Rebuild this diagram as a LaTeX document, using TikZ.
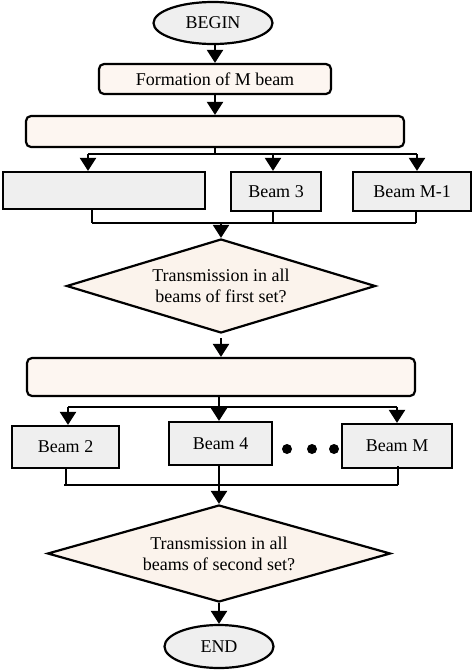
\documentclass[tikz,border=0pt]{standalone}
\usepackage{fontspec}
\setmainfont{Liberation Serif}
\usetikzlibrary{shapes.geometric,arrows.meta}
\definecolor{grayfill}{HTML}{EFEFEF}
\definecolor{pinkfill}{HTML}{FDF6F1}
\definecolor{diafill}{HTML}{FBF3EC}
\tikzset{
  every node/.style={font=\fontsize{18}{21}\selectfont, line width=2.2pt, inner sep=0pt},
  oval/.style={draw, ellipse, fill=grayfill},
  procbox/.style={draw, rounded corners=5pt, fill=pinkfill},
  beambox/.style={draw, rectangle, fill=grayfill},
  decbox/.style={draw, diamond, aspect=3.5, fill=diafill, align=center},
  conn/.style={line width=2.2pt},
  arr/.style={line width=2.2pt, -{Triangle[width=16pt,length=13pt]}},
  dot/.style={circle, fill=black, minimum size=10pt, draw=none}
}
\begin{document}
\begin{tikzpicture}[x=1pt,y=-1pt]
\useasboundingbox (0,0) rectangle (474,670);
% nodes
\node[oval, minimum width=119pt, minimum height=42pt] (begin) at (213,23) {BEGIN};
\node[procbox, minimum width=232pt, minimum height=30pt] (form) at (215,79) {Formation of M beam};
\node[procbox, minimum width=378pt, minimum height=31pt] (set1) at (215,131.5) {};
\node[beambox, minimum width=202pt, minimum height=37pt] (bA) at (104,190.5) {};
\node[beambox, minimum width=90pt, minimum height=39pt] (b3) at (276,191.5) {Beam 3};
\node[beambox, minimum width=118pt, minimum height=39pt] (bM1) at (412,191.5) {Beam M-1};
\node[decbox, minimum width=309pt, minimum height=94pt] (dia1) at (221,286) {Transmission in all\\beams of first set?};
\node[procbox, minimum width=388pt, minimum height=38pt] (set2) at (221,377) {};
\node[beambox, minimum width=107pt, minimum height=42pt] (b2) at (65.5,447) {Beam 2};
\node[beambox, minimum width=103pt, minimum height=43pt] (b4) at (220.5,443.5) {Beam 4};
\node[beambox, minimum width=110pt, minimum height=44pt] (bM) at (397,446) {Beam M};
\node[dot] (d1) at (287,449) {};
\node[dot] (d2) at (312,449) {};
\node[dot] (d3) at (334,449) {};
\node[decbox, minimum width=343pt, minimum height=97pt] (dia2) at (219,553.5) {Transmission in all\\beams of second set?};
\node[oval, minimum width=109pt, minimum height=43pt] (end) at (219,646.5) {END};
% coordinates
\coordinate (s1) at (215,154);
\coordinate (s1L) at (88,154);
\coordinate (s1M) at (273,154);
\coordinate (s1R) at (417,154);
\coordinate (c1) at (221,223);
\coordinate (c1L) at (92,223);
\coordinate (c1M) at (273,223);
\coordinate (c1R) at (416,223);
\coordinate (g1) at (221,338);
\coordinate (s2) at (219,407);
\coordinate (s2L) at (68,407);
\coordinate (s2R) at (397,407);
\coordinate (c2L) at (64,485);
\coordinate (c2R) at (398,485);
% connectors
\draw[arr] (begin.south -| form.north) -- (form.north);
\draw[arr] (form.south) -- (set1.north);
\draw[conn] (set1.south) -- (s1);
\draw[conn] (s1L) -- (s1R);
\draw[arr] (s1L) -- (s1L |- bA.north);
\draw[arr] (s1M) -- (s1M |- b3.north);
\draw[arr] (s1R) -- (s1R |- bM1.north);
\draw[conn] (c1L |- bA.south) -- (c1L);
\draw[conn] (c1M |- b3.south) -- (c1M);
\draw[conn] (c1R |- bM1.south) -- (c1R);
\draw[conn] (c1L) -- (c1R);
\draw[arr] (c1) -- (dia1.north);
\draw[arr] (g1) -- (set2.north);
\draw[conn] (set2.south -| s2) -- (s2);
\draw[conn] (s2L) -- (s2R);
\draw[arr] (s2L) -- (s2L |- b2.north);
\draw[arr] (s2) -- (s2 |- b4.north);
\draw[arr] (s2R) -- (s2R |- bM.north);
\draw[conn] (66,468) -- (66,485);
\draw[conn] (c2R |- bM.south) ++(0,-3) -- (c2R);
\draw[conn] (c2L) -- (c2R);
\draw[arr] (dia2.north |- b4.south) -- (dia2.north);
\draw[arr] (dia2.south) -- (end.north);
\end{tikzpicture}
\end{document}
